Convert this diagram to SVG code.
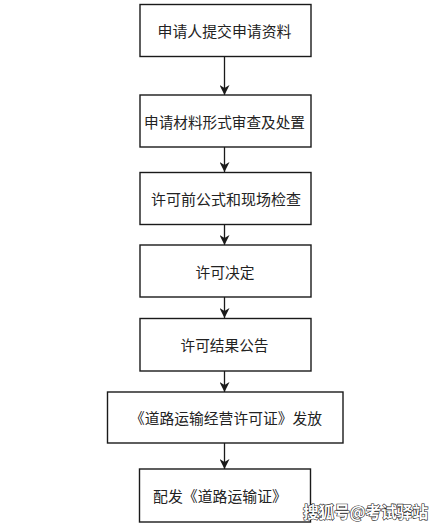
<svg xmlns="http://www.w3.org/2000/svg" width="442" height="530" viewBox="0 0 442 530">
<style>
.box{fill:#fff;stroke:#1a1a1a;stroke-width:1.4}
.lbl{font-family:"Noto Sans CJK SC","Noto Sans",sans-serif;font-size:15px;fill:#222;text-anchor:middle;dominant-baseline:central}
.edge{stroke:#1a1a1a;stroke-width:1.3;fill:none}
.wm{font-family:"Noto Sans CJK SC",sans-serif;font-size:16px;font-weight:bold;fill:#fff;stroke:#222;stroke-width:1.2;paint-order:stroke}
</style>
<defs>
<marker id="ah" viewBox="0 0 10 10" refX="10" refY="5" markerWidth="10" markerHeight="10" markerUnits="userSpaceOnUse" orient="auto">
<path d="M0,0 L10,5 L0,10 L3,5 Z" fill="#1a1a1a"/>
</marker>
</defs>
<rect width="442" height="530" fill="#fff"/>
<g id="connectors">
<line class="edge" x1="224.5" y1="56" x2="224.5" y2="95" marker-end="url(#ah)"/>
<line class="edge" x1="224.5" y1="147" x2="224.5" y2="172" marker-end="url(#ah)"/>
<line class="edge" x1="224.5" y1="224" x2="224.5" y2="245" marker-end="url(#ah)"/>
<line class="edge" x1="224.5" y1="297" x2="224.5" y2="318" marker-end="url(#ah)"/>
<line class="edge" x1="224.5" y1="371" x2="224.5" y2="392" marker-end="url(#ah)"/>
<line class="edge" x1="224.5" y1="443" x2="224.5" y2="469" marker-end="url(#ah)"/>
</g>
<g id="n1"><rect class="box" x="140" y="4.5" width="171" height="52"/><text class="lbl" x="224.5" y="30.5" textLength="134" lengthAdjust="spacingAndGlyphs">申请人提交申请资料</text></g>
<g id="n2"><rect class="box" x="140" y="95" width="171" height="52"/><text class="lbl" x="224.5" y="121" textLength="161" lengthAdjust="spacingAndGlyphs">申请材料形式审查及处置</text></g>
<g id="n3"><rect class="box" x="140" y="172.5" width="171" height="52"/><text class="lbl" x="226" y="198.5" textLength="150" lengthAdjust="spacingAndGlyphs">许可前公式和现场检查</text></g>
<g id="n4"><rect class="box" x="140" y="245" width="171" height="52"/><text class="lbl" x="225" y="271" textLength="59" lengthAdjust="spacingAndGlyphs">许可决定</text></g>
<g id="n5"><rect class="box" x="140" y="318.5" width="171" height="52.5"/><text class="lbl" x="224.5" y="344.5" textLength="88" lengthAdjust="spacingAndGlyphs">许可结果公告</text></g>
<g id="n6"><rect class="box" x="107.5" y="392" width="235.5" height="51"/><text class="lbl" x="226" y="417.5" textLength="192" lengthAdjust="spacingAndGlyphs">《道路运输经营许可证》发放</text></g>
<g id="n7"><rect class="box" x="139.5" y="469" width="171" height="53"/><text class="lbl" x="220" y="495.5" textLength="134" lengthAdjust="spacingAndGlyphs">配发《道路运输证》</text></g>
<text class="wm" x="303" y="518" textLength="125" lengthAdjust="spacingAndGlyphs">搜狐号@考试驿站</text>
</svg>
